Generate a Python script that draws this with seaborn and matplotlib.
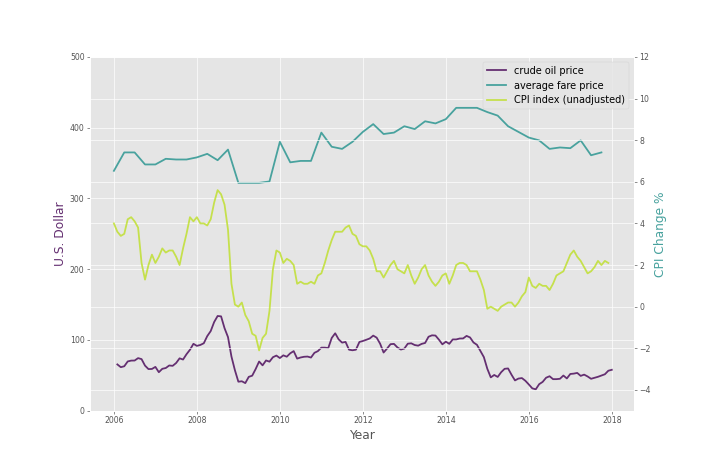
import numpy as np
import pandas as pd
import matplotlib
matplotlib.use('Agg')
import matplotlib.pyplot as plt
import seaborn as sns

# monthly crude oil price (USD / barrel), Jan 2006 - Dec 2017
oil_price = [
    65.5, 61.6, 62.9, 69.7, 70.9, 71.0, 74.4, 73.0, 63.8, 58.9, 59.1, 62.0,
    54.5, 59.3, 60.4, 64.0, 63.5, 67.5, 74.1, 72.4, 79.9, 86.2, 94.6, 91.7,
    93.0, 95.4, 105.5, 112.6, 125.4, 133.9, 133.4, 116.7, 104.1, 76.6, 57.3, 41.1,
    41.7, 39.1, 47.9, 49.6, 59.0, 69.6, 64.2, 71.1, 69.4, 75.7, 78.0, 74.5,
    78.3, 76.4, 81.2, 84.3, 73.7, 75.3, 76.3, 76.6, 75.2, 81.9, 84.3, 89.2,
    89.2, 88.6, 102.9, 109.5, 100.9, 96.3, 97.3, 86.3, 85.5, 86.3, 97.2, 98.6,
    100.3, 102.2, 106.2, 103.3, 94.7, 82.3, 87.9, 94.1, 94.5, 89.5, 86.5, 87.9,
    94.8, 95.3, 92.9, 92.0, 94.5, 95.8, 104.6, 106.6, 106.3, 100.5, 93.9, 97.6,
    94.6, 100.8, 100.8, 102.1, 102.2, 105.8, 103.6, 96.5, 93.2, 84.4, 75.8, 59.3,
    47.2, 50.6, 47.8, 54.5, 59.3, 59.8, 50.9, 42.9, 45.5, 46.2, 42.4, 37.2,
    31.7, 30.3, 37.6, 40.8, 46.7, 48.8, 44.7, 44.7, 45.2, 49.8, 45.7, 52.0,
    52.5, 53.5, 49.3, 51.1, 48.5, 45.2, 46.6, 48.0, 49.8, 51.6, 56.6, 57.9,
]

# monthly CPI change in %, Jan 2006 - Dec 2017
cpi_change = [
    4.0, 3.6, 3.4, 3.5, 4.2, 4.3, 4.1, 3.8, 2.1, 1.3, 2.0, 2.5,
    2.1, 2.4, 2.8, 2.6, 2.7, 2.7, 2.4, 2.0, 2.8, 3.5, 4.3, 4.1,
    4.3, 4.0, 4.0, 3.9, 4.2, 5.0, 5.6, 5.4, 4.9, 3.7, 1.1, 0.1,
    0.0, 0.2, -0.4, -0.7, -1.3, -1.4, -2.1, -1.5, -1.3, -0.2, 1.8, 2.7,
    2.6, 2.1, 2.3, 2.2, 2.0, 1.1, 1.2, 1.1, 1.1, 1.2, 1.1, 1.5,
    1.6, 2.1, 2.7, 3.2, 3.6, 3.6, 3.6, 3.8, 3.9, 3.5, 3.4, 3.0,
    2.9, 2.9, 2.7, 2.3, 1.7, 1.7, 1.4, 1.7, 2.0, 2.2, 1.8, 1.7,
    1.6, 2.0, 1.5, 1.1, 1.4, 1.8, 2.0, 1.5, 1.2, 1.0, 1.2, 1.5,
    1.6, 1.1, 1.5, 2.0, 2.1, 2.1, 2.0, 1.7, 1.7, 1.7, 1.3, 0.8,
    -0.1, 0.0, -0.1, -0.2, 0.0, 0.1, 0.2, 0.2, 0.0, 0.2, 0.5, 0.7,
    1.4, 1.0, 0.9, 1.1, 1.0, 1.0, 0.8, 1.1, 1.5, 1.6, 1.7, 2.1,
    2.5, 2.7, 2.4, 2.2, 1.9, 1.6, 1.7, 1.9, 2.2, 2.0, 2.2, 2.1,
]

# quarterly average fare (USD), 2006 Q1 - 2017 Q4
fare_price = [
    339, 365, 365, 348, 348, 356, 355, 355,
    358, 363, 354, 369, 322, 322, 322, 324,
    380, 351, 353, 353, 393, 373, 370, 380,
    394, 405, 391, 393, 402, 398, 409, 406,
    412, 428, 428, 428, 422, 417, 402, 394,
    386, 382, 370, 372, 371, 382, 361, 365,
]

oil = pd.DataFrame({'year': 2006 + (np.arange(len(oil_price)) + 1) / 12, 'value': oil_price})
cpi = pd.DataFrame({'year': 2006 + np.arange(len(cpi_change)) / 12, 'value': cpi_change})
fare = pd.DataFrame({'year': 2006 + np.arange(len(fare_price)) / 4, 'value': fare_price})

purple = '#440154'
teal = '#21918c'
lime = '#bddf26'

plt.style.use('ggplot')
fig, ax = plt.subplots(figsize=(12, 8), dpi=58.75)
fig.subplots_adjust(left=0.128, right=0.899, bottom=0.126, top=0.879)

sns.lineplot(data=oil, x='year', y='value', ax=ax, color=purple, lw=2.2, alpha=0.8,
             label='crude oil price', legend=False)
sns.lineplot(data=fare, x='year', y='value', ax=ax, color=teal, lw=2.2, alpha=0.8,
             label='average fare price', legend=False)
if ax.get_legend():
    ax.get_legend().remove()

ax2 = ax.twinx()
sns.lineplot(data=cpi, x='year', y='value', ax=ax2, color=lime, lw=2.2, alpha=0.8,
             label='CPI index (unadjusted)', legend=False)

ax.set_ylim(0, 500)
ax2.set_ylim(-5, 12)
ax2.set_yticks(np.arange(-4, 13, 2))
ax.set_xlim(2005.43, 2018.53)
ax.set_xticks(range(2006, 2019, 2))

ax.tick_params(labelsize=9.5)
ax2.tick_params(labelsize=9.5)
ax.set_xlabel('Year', fontsize=15, color='#555555')
ax.set_ylabel('U.S. Dollar', fontsize=15, color='#642f71')
ax2.set_ylabel('CPI Change %', fontsize=15, color='#48a29e')

h1, l1 = ax.get_legend_handles_labels()
h2, l2 = ax2.get_legend_handles_labels()
ax2.legend(h1 + h2, l1 + l2, loc='upper right', fontsize=12)

fig.savefig('out.png', dpi=58.75)
